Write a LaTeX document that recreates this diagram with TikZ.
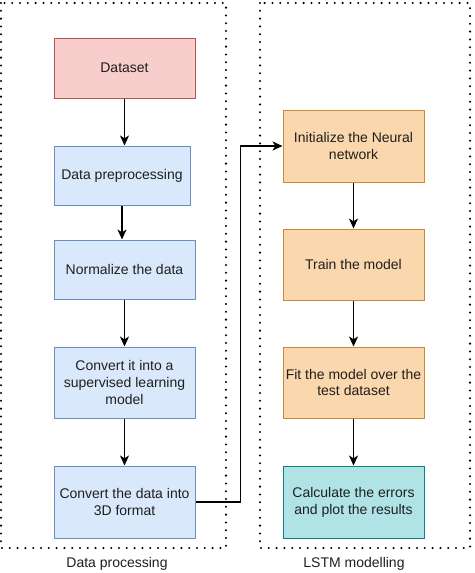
\documentclass[tikz,border=0pt]{standalone}
\usepackage{fontspec}
\setmainfont{Liberation Sans}
\usetikzlibrary{arrows.meta,positioning}
\definecolor{redfill}{HTML}{F8CECC}
\definecolor{redline}{HTML}{B85450}
\definecolor{bluefill}{HTML}{DAE8FC}
\definecolor{blueline}{HTML}{6C8EBF}
\definecolor{orangefill}{HTML}{FAD7AC}
\definecolor{orangeline}{HTML}{C98A3C}
\definecolor{tealfill}{HTML}{B0E3E6}
\definecolor{tealline}{HTML}{0E8088}
\definecolor{txt}{HTML}{1F1F1F}

\begin{document}
\begin{tikzpicture}[
  x=1pt, y=-1pt,
  every node/.style={font=\fontsize{14}{16.8}\selectfont, text=txt, align=center},
  box/.style={rectangle, draw, line width=1pt, minimum width=141pt, inner sep=2pt},
  databox/.style={box, fill=redfill, draw=redline},
  prepbox/.style={box, fill=bluefill, draw=blueline},
  lstmbox/.style={box, fill=orangefill, draw=orangeline},
  resbox/.style={box, fill=tealfill, draw=tealline},
  group/.style={draw, line width=2.3pt, line cap=round, dash pattern=on 0pt off 7.8pt},
  >={Stealth[length=10pt, width=9pt, inset=2.8pt]}
]
  \useasboundingbox (0,0) rectangle (474,573);

  % Group frames
  \draw[group] (1,3) rectangle (226,548);
  \draw[group] (260,3) rectangle (470,548);
  \node (dplabel) at (117,564) {Data processing};
  \node (lmlabel) at (354,564) {LSTM modelling};

  % Data processing steps
  \node[databox, minimum height=60pt] (dataset) at (124.5,68) {Dataset};
  \node[prepbox, minimum height=59pt, minimum width=136pt] (prep) at (122,175.5) {Data preprocessing};
  \node[prepbox, minimum height=59pt] (norm) at (124.5,269.5) {Normalize the data};
  \node[prepbox, minimum height=71pt] (superv) at (124.5,382.5) {Convert it into a\\supervised learning\\model};
  \node[prepbox, minimum height=72pt] (conv3d) at (124.5,502) {Convert the data into\\3D format};

  % LSTM modelling steps
  \node[lstmbox, minimum height=72pt] (init) at (353.5,146) {Initialize the Neural\\network};
  \node[lstmbox, minimum height=71pt] (train) at (353.5,264.5) {Train the model};
  \node[lstmbox, minimum height=71pt] (fit) at (353.5,382.5) {Fit the model over the\\test dataset};
  \node[resbox, minimum height=72pt] (calc) at (353.5,502) {Calculate the errors\\and plot the results};

  % Arrows
  \draw[->, line width=1.3pt] (dataset) -- (dataset |- prep.north);
  \draw[->, line width=1.3pt] (prep) -- (prep |- norm.north);
  \draw[->, line width=1.3pt] (norm) -- (superv);
  \draw[->, line width=1.3pt] (superv) -- (conv3d);
  \draw[->, line width=1.3pt] (conv3d.east) -- ++(45,0) |- (init.west);
  \draw[->, line width=1.3pt] (init) -- (train);
  \draw[->, line width=1.3pt] (train) -- (fit);
  \draw[->, line width=1.3pt] (fit) -- (calc);
\end{tikzpicture}
\end{document}
